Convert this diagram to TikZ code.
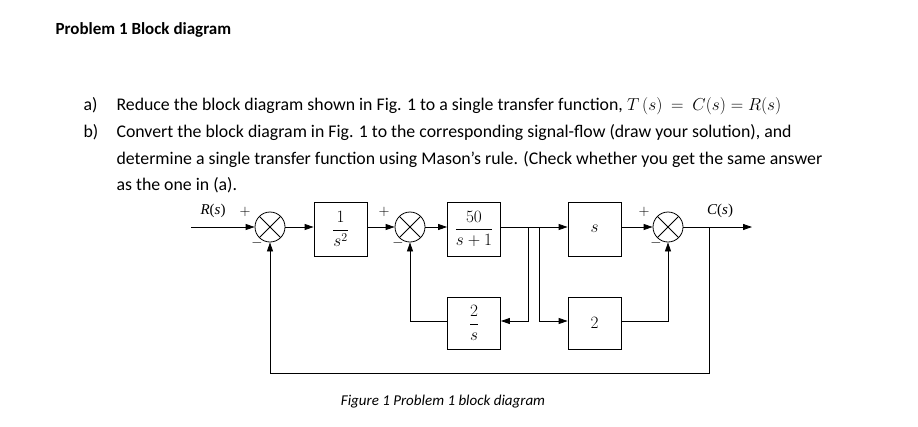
\documentclass[tikz,border=0pt]{standalone}
\usepackage{amsmath}
\usepackage{fontspec}
\setmainfont{Carlito}
\newfontfamily\diagfont{Liberation Serif}
\usetikzlibrary{arrows.meta}
\usetikzlibrary{calc}

\begin{document}
\begin{tikzpicture}[x=1pt,y=-1pt,
	block/.style={draw, thick, minimum width=53pt, minimum height=54pt, inner sep=0pt, font=\fontsize{17}{18}\selectfont},
	sumnode/.style={draw, thick, circle, minimum size=30pt, inner sep=0pt},
	sig/.style={thick, -{Triangle[length=9pt,width=6pt]}},
	sign/.style={font=\fontsize{14}{15}\selectfont, inner sep=0pt}]
	\useasboundingbox (0,0) rectangle (918,426);
	
	% text
	\node [anchor=base west, font=\bfseries\fontsize{17}{20}\selectfont] (title) at (52,34) {Problem 1 Block diagram};
	\node [anchor=base west, font=\fontsize{17.8}{20}\selectfont] (ia) at (80,110) {a)};
	\node [anchor=base west, font=\fontsize{17.8}{20}\selectfont] (ta) at (113,110) {Reduce the block diagram shown in Fig. 1 to a single transfer function, $T\,(s)\ =\ C(s) = R(s)$};
	\node [anchor=base west, font=\fontsize{17.8}{20}\selectfont] (ib) at (80,137) {b)};
	\node [anchor=base west, font=\fontsize{17.8}{20}\selectfont] (tb) at (113,137) {Convert the block diagram in Fig. 1 to the corresponding signal-flow (draw your solution), and};
	\node [anchor=base west, font=\fontsize{17.8}{20}\selectfont] (tc) at (113,164) {determine a single transfer function using Mason’s rule. (Check whether you get the same answer};
	\node [anchor=base west, font=\fontsize{17.8}{20}\selectfont] (td) at (113,190) {as the one in (a).};
	\node [font=\itshape\fontsize{15}{16}\selectfont] (cap) at (443,402) {Figure 1 Problem 1 block diagram};
	
	%----------------------------------------
	
	\coordinate (in) at (191,227);
	\node [sumnode] (s1) at (270,227) {};
	\node [block] (g1) at (340.5,229) {$\dfrac{1}{s^2}$};
	\node [sumnode] (s2) at (410,227) {};
	\node [block] (g2) at (474,229) {$\dfrac{50}{s+1}$};
	\coordinate (b1) at (528,227);
	\coordinate (b2) at (539,227);
	\node [block] (g3) at (594.5,229) {$s$};
	\node [sumnode] (s3) at (668,227) {};
	\coordinate (tap) at (709,227);
	\coordinate (out) at (752,227);
	\node [block, minimum height=52pt] (h1) at (474,323) {$\dfrac{2}{s}$};
	\node [block, minimum height=52pt] (h2) at (594.5,323) {$2$};
	
	\foreach \s in {s1,s2,s3}{
		\draw [thick] ($(\s)+(-10.6,-10.6)$) -- ($(\s)+(10.6,10.6)$);
		\draw [thick] ($(\s)+(-10.6,10.6)$) -- ($(\s)+(10.6,-10.6)$);
	}
	
	\draw [sig] (in) -- (s1);
	\draw [sig] (s1) -- (s1 -| g1.west);
	\draw [sig] (s1 -| g1.east) -- (s2);
	\draw [sig] (s2) -- (s2 -| g2.west);
	\draw [thick] (s2 -| g2.east) -- (b2);
	\draw [sig] (b2) -- (s3 -| g3.west);
	\draw [sig] (s3 -| g3.east) -- (s3);
	\draw [sig] (s3) -- (out);
	
	\draw [sig] (b1) |- (h1.east |- 321,321);
	\draw [sig] (h1.west |- 321,321) -| (s2);
	\draw [sig] (b2) |- (h2.west |- 321,321);
	\draw [sig] (h2.east |- 321,321) -| (s3);
	\draw [sig] (tap) |- (270,373) -- (s1);
	
	\node [sign, font=\diagfont\fontsize{15}{16}\selectfont] at (213,211) {\textit{R}(\textit{s})};
	\node [sign] at (245,212) {$+$};
	\node [sign] at (257,243) {$-$};
	\node [sign] at (384,212) {$+$};
	\node [sign] at (398,243) {$-$};
	\node [sign] at (644,212) {$+$};
	\node [sign] at (656,243) {$-$};
	\node [sign, font=\diagfont\fontsize{15}{16}\selectfont] at (720,211) {\textit{C}(\textit{s})};
\end{tikzpicture}
\end{document}
